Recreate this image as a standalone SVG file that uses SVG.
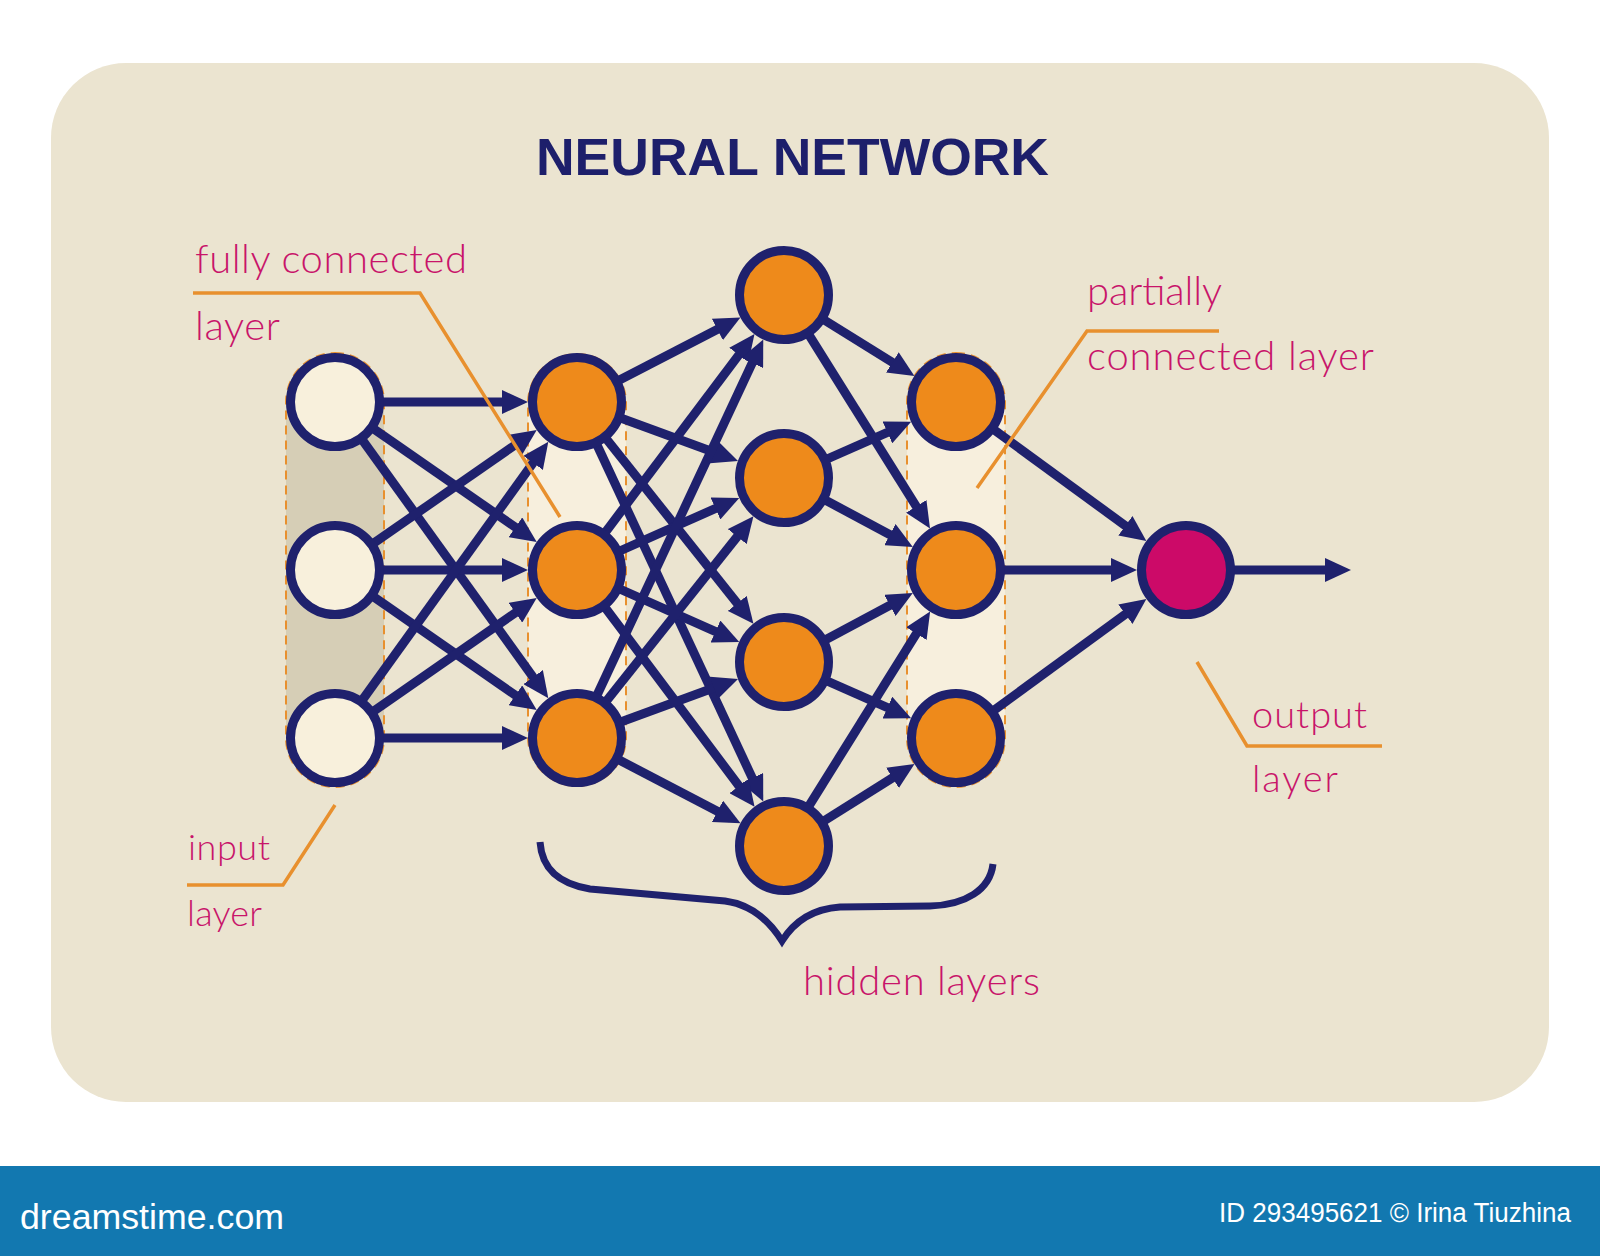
<svg xmlns="http://www.w3.org/2000/svg" width="1600" height="1256" viewBox="0 0 1600 1256">
<defs>
<style>
.c{stroke:#1f216d;stroke-width:9;fill:none;marker-end:url(#ah)}
.n{stroke:#1f216d;stroke-width:9}
.in{fill:#f8f0dc}
.hd{fill:#ee8a1b}
.out{fill:#cc0a68}
.band{stroke:#e8902e;stroke-width:2;stroke-dasharray:9 6}
.lead{stroke:#e8902e;stroke-width:3.5;fill:none}
.lbl{font-family:Lato,"Open Sans","DejaVu Sans",sans-serif;font-weight:300;fill:#c8146a}
.foot{font-family:"Liberation Sans",Arial,sans-serif;fill:#ffffff}
</style>
<marker id="ah" markerUnits="userSpaceOnUse" markerWidth="26" markerHeight="24" viewBox="0 0 26 24" refX="15" refY="12" orient="auto"><path d="M0,0 L26,12 L0,24 Z" fill="#1f216d"/></marker>
</defs>

<rect x="0" y="0" width="1600" height="1256" fill="#ffffff"/>
<rect id="card" x="51" y="63" width="1498" height="1039" rx="75" fill="#ebe4d0"/>
<rect id="footer" x="0" y="1166" width="1600" height="90" fill="#1278b0"/>
<text class="foot" x="20" y="1229" font-size="35" textLength="264" lengthAdjust="spacingAndGlyphs">dreamstime.com</text>
<text class="foot" x="1219" y="1222" font-size="27" textLength="352" lengthAdjust="spacingAndGlyphs">ID 293495621 © Irina Tiuzhina</text>

<text id="title" x="536" y="175" font-family="'Liberation Sans',Arial,sans-serif" font-weight="bold" font-size="51" fill="#1d1f6b" textLength="513" lengthAdjust="spacingAndGlyphs">NEURAL NETWORK</text>

<g id="bands">
<rect id="band-input" class="band" x="286" y="353" width="98" height="434" rx="49" fill="#d6ceb6"/>
<rect id="band-hidden1" class="band" x="528" y="354" width="98" height="432" rx="49" fill="#f7efdd"/>
<rect id="band-hidden3" class="band" x="907" y="353" width="98" height="434" rx="49" fill="#f7efdd"/>
</g>

<g id="connectors">
<line class="c" x1="335" y1="402" x2="517" y2="402"/>
<line class="c" x1="335" y1="402" x2="527.7" y2="535.8"/>
<line class="c" x1="335" y1="402" x2="541.9" y2="689.3"/>
<line class="c" x1="335" y1="570" x2="527.7" y2="436.2"/>
<line class="c" x1="335" y1="570" x2="517" y2="570"/>
<line class="c" x1="335" y1="570" x2="527.7" y2="703.8"/>
<line class="c" x1="335" y1="738" x2="541.9" y2="450.7"/>
<line class="c" x1="335" y1="738" x2="527.7" y2="604.2"/>
<line class="c" x1="335" y1="738" x2="517" y2="738"/>

<line class="c" x1="577" y1="402" x2="730.7" y2="322.6"/>
<line class="c" x1="577" y1="402" x2="727.7" y2="457.3"/>
<line class="c" x1="577" y1="402" x2="746.6" y2="615.1"/>
<line class="c" x1="577" y1="402" x2="758.6" y2="791.6"/>
<line class="c" x1="577" y1="570" x2="747.9" y2="342.9"/>
<line class="c" x1="577" y1="570" x2="729.2" y2="502.4"/>
<line class="c" x1="577" y1="570" x2="729.2" y2="637.6"/>
<line class="c" x1="577" y1="570" x2="748" y2="798"/>
<line class="c" x1="577" y1="738" x2="758.6" y2="349.4"/>
<line class="c" x1="577" y1="738" x2="746.6" y2="524.9"/>
<line class="c" x1="577" y1="738" x2="727.7" y2="682.7"/>
<line class="c" x1="577" y1="738" x2="730.8" y2="818.2"/>

<line class="c" x1="784" y1="295" x2="905.1" y2="370.3"/>
<line class="c" x1="784" y1="295" x2="924.2" y2="519.1"/>
<line class="c" x1="784" y1="478" x2="901.1" y2="426.3"/>
<line class="c" x1="784" y1="478" x2="903.1" y2="541.7"/>
<line class="c" x1="784" y1="662" x2="903.1" y2="598.3"/>
<line class="c" x1="784" y1="662" x2="901.1" y2="713.7"/>
<line class="c" x1="784" y1="846" x2="924.3" y2="620.9"/>
<line class="c" x1="784" y1="846" x2="905.2" y2="769.9"/>

<line class="c" x1="956" y1="402" x2="1137.5" y2="534.6"/>
<line class="c" x1="956" y1="570" x2="1126" y2="570"/>
<line class="c" x1="956" y1="738" x2="1137.5" y2="605.4"/>
<line class="c" x1="1186" y1="570" x2="1340" y2="570"/>
</g>

<g id="leaders">
<polyline class="lead" points="193,293 420,293 560,517"/>
<polyline class="lead" points="1219,331 1087,331 977,488"/>
<polyline class="lead" points="187,885 283,885 335,805"/>
<polyline class="lead" points="1197,662 1247,746 1382,746"/>
</g>

<g id="nodes">
<g id="input-1"><circle class="n in" cx="335" cy="402" r="44.5"/></g>
<g id="input-2"><circle class="n in" cx="335" cy="570" r="44.5"/></g>
<g id="input-3"><circle class="n in" cx="335" cy="738" r="44.5"/></g>
<g id="hidden1-1"><circle class="n hd" cx="577" cy="402" r="44.5"/></g>
<g id="hidden1-2"><circle class="n hd" cx="577" cy="570" r="44.5"/></g>
<g id="hidden1-3"><circle class="n hd" cx="577" cy="738" r="44.5"/></g>
<g id="hidden2-1"><circle class="n hd" cx="784" cy="295" r="44.5"/></g>
<g id="hidden2-2"><circle class="n hd" cx="784" cy="478" r="44.5"/></g>
<g id="hidden2-3"><circle class="n hd" cx="784" cy="662" r="44.5"/></g>
<g id="hidden2-4"><circle class="n hd" cx="784" cy="846" r="44.5"/></g>
<g id="hidden3-1"><circle class="n hd" cx="956" cy="402" r="44.5"/></g>
<g id="hidden3-2"><circle class="n hd" cx="956" cy="570" r="44.5"/></g>
<g id="hidden3-3"><circle class="n hd" cx="956" cy="738" r="44.5"/></g>
<g id="output"><circle class="n out" cx="1186" cy="570" r="44.5"/></g>
</g>

<path id="brace" d="M540,842 C542,870 560,884 590,889 L725,901 C755,905 772,925 782,941 C792,925 810,909 840,907 L930,906 C965,905 990,890 993,864" fill="none" stroke="#1f216d" stroke-width="7"/>

<g id="labels">
<text class="lbl" x="195" y="273" font-size="40" textLength="272">fully connected</text>
<text class="lbl" x="195" y="340" font-size="40" textLength="85">layer</text>
<text class="lbl" x="1087" y="305" font-size="40" textLength="135">partially</text>
<text class="lbl" x="1087" y="370" font-size="40" textLength="287">connected layer</text>
<text class="lbl" x="188" y="860" font-size="36" textLength="82">input</text>
<text class="lbl" x="187" y="926" font-size="36" textLength="75">layer</text>
<text class="lbl" x="1252" y="728" font-size="38" textLength="115">output</text>
<text class="lbl" x="1252" y="792" font-size="38" textLength="86">layer</text>
<text class="lbl" x="803" y="995" font-size="40" textLength="237">hidden layers</text>
</g>
</svg>
